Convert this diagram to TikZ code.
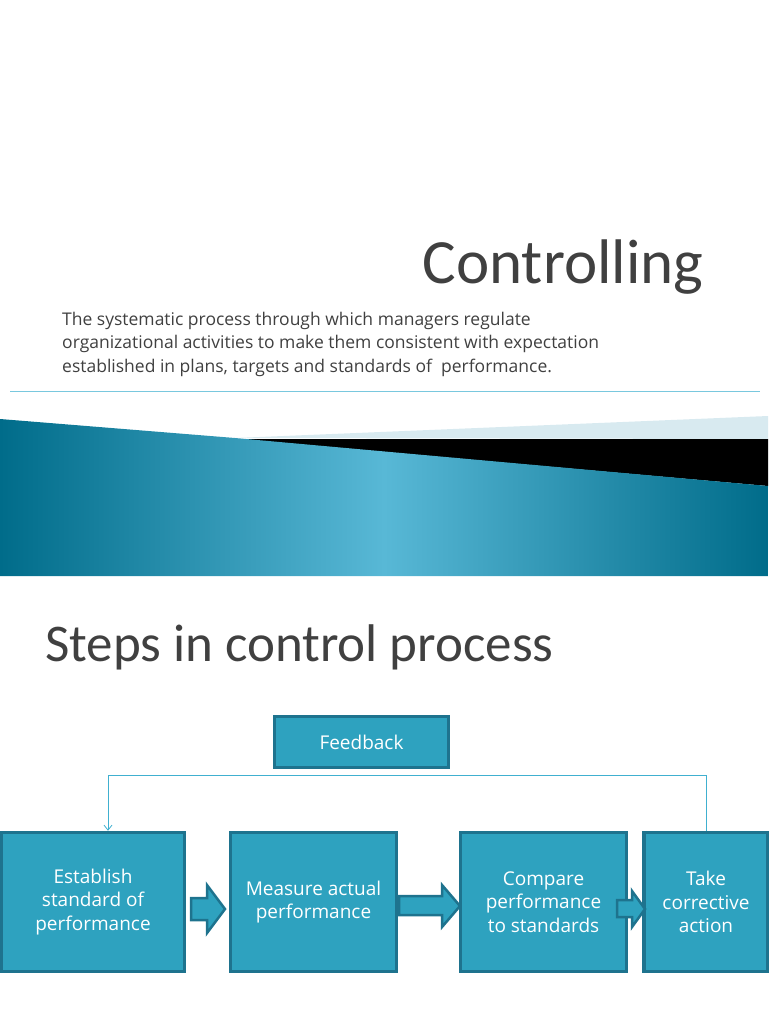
\documentclass[tikz,border=0pt]{standalone}
\usepackage{fontspec}
\setmainfont{Carlito}
\newfontfamily\bodyfont{Open Sans}
\usetikzlibrary{positioning, calc, arrows.meta}
\definecolor{boxcolor}{RGB}{46,162,191}
\definecolor{edgecolor}{RGB}{30,115,142}
\definecolor{linkcolor}{RGB}{64,176,208}
\definecolor{titlecolor}{RGB}{64,64,64}
\definecolor{darkband}{RGB}{0,108,138}
\definecolor{lightband}{RGB}{88,184,214}
\definecolor{paleband}{RGB}{216,234,240}
\tikzset{
  %% stepbox : one step of the control process
  stepbox/.style={
    rectangle,
    fill=boxcolor,
    draw=edgecolor,
    line width=3.5pt,
    text=white,
    font=\bodyfont\fontsize{19}{23.5}\selectfont,
    align=center
  },
  %% blockarrow : fat arrow between steps (a path)
  blockarrow/.style={
    fill=boxcolor,
    draw=edgecolor,
    line width=2.5pt,
    line join=miter
  },
  %% feedback : the loop back line
  feedback/.style={linkcolor, line width=0.8pt}
}

\begin{document}
\begin{tikzpicture}
  [x=1pt,
  y=-1pt]

  \useasboundingbox (0,0) rectangle (768,1024);

  %% Upper slide
  \node (title) [titlecolor, font=\fontsize{63}{65}\selectfont, anchor=base]
    at (563,283) {Controlling};
  \node (intro) [titlecolor, font=\bodyfont\fontsize{17.5}{23.5}\selectfont, align=left,
    anchor=north west, inner sep=0pt] at (62,312) {%
    The systematic process through which managers regulate\\
    organizational activities to make them consistent with expectation\\
    established in plans, targets and standards of\ \ performance.
  };
  \draw [linkcolor!70, line width=0.8pt] (10,391) -- (760,391);

  %% Banner
  \fill [paleband] (235,438) -- (768,416) -- (768,439) -- cycle;
  \fill [black] (235,439) -- (768,439) -- (768,486) -- cycle;
  \shade [left color=darkband, right color=darkband, middle color=lightband]
    (0,419) -- (235,438) -- (768,486) -- (768,576) -- (0,576) -- cycle;

  %% Lower slide
  \node (steps) [titlecolor, font=\fontsize{53}{56}\selectfont, anchor=base west,
    inner sep=0pt] at (45,661) {Steps in control process};

  \node (fb) [stepbox, minimum width=174pt, minimum height=51pt] at (361.5,742) {Feedback};

  \node (establish) [stepbox, minimum width=183pt, minimum height=139pt] at (93,902) {%
    Establish\\standard of\\performance};
  \node (measure) [stepbox, minimum width=166pt, minimum height=139pt] at (313.5,902) {%
    Measure actual\\performance};
  \node (compare) [stepbox, minimum width=166pt, minimum height=139pt] at (543.5,902) {%
    Compare\\performance\\to standards};
  \node (act) [stepbox, minimum width=124pt, minimum height=139pt] at (706,902) {%
    Take\\corrective\\action};

  %% Block arrows
  \draw [blockarrow] (191,898) -- (207,898) -- (207,885) -- (225,909)
    -- (207,933) -- (207,920) -- (191,920) -- cycle;
  \draw [blockarrow] (399,896) -- (442,896) -- (442,885) -- (460,906)
    -- (442,927) -- (442,915) -- (399,915) -- cycle;
  \draw [blockarrow] (617,900) -- (632,900) -- (632,891) -- (645,909)
    -- (632,927) -- (632,917) -- (617,917) -- cycle;

  %% Feedback loop
  \coordinate (loopR) at (act.north |- 0,775);
  \coordinate (loopL) at (108,775);
  \draw [feedback, -{Straight Barb[length=5pt,width=8pt]}]
    (act.north) -- (loopR) -- (loopL) -- (loopL |- establish.north);

\end{tikzpicture}
\end{document}
